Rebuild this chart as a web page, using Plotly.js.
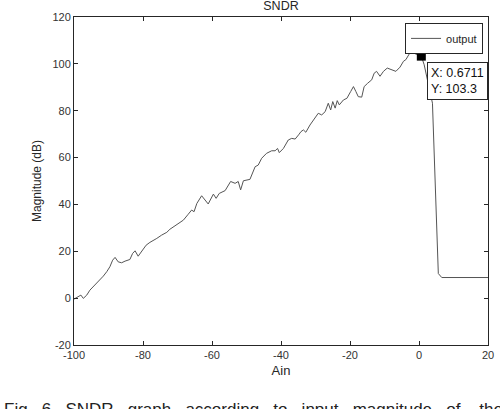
<!DOCTYPE html>
<html>
<head>
<meta charset="utf-8">
<script src="https://cdn.plot.ly/plotly-3.0.1.min.js"></script>
<style>
  html, body { margin: 0; padding: 0; background: #fff; }
  #sndrPlot { width: 500px; height: 409px; }
</style>
</head>
<body>
<div id="sndrPlot"></div>
<script>
// input amplitude (dB)
const ainValues = [
  -100, -98.8, -98.0, -97.3, -96.3, -95.4, -93.9, -92.5, -91.5, -90.5,
  -89.6, -88.8, -88.1, -87.2, -86.2, -85.2, -83.8, -83.0, -82.3, -81.4,
  -80.4, -79.1, -78.0, -77.0, -76.0, -74.6, -73.1, -72.2, -70.2, -68.3,
  -66.9, -65.9, -65.2, -64.4, -63.0, -62.0, -61.1, -59.6, -58.8, -57.9,
  -56.2, -54.6, -53.3, -52.4, -51.7, -50.9, -49.9, -49.0, -47.5, -46.6,
  -45.6, -44.2, -42.7, -41.7, -41.0, -40.5, -39.3, -37.9, -36.9, -35.9,
  -34.9, -34.2, -33.5, -32.8, -31.6, -30.6, -29.2, -28.2, -27.2, -26.3,
  -25.6, -25.0, -24.3, -23.7, -23.1, -21.9, -20.9, -19.8, -19.0, -18.3,
  -17.6, -16.6, -15.9, -14.9, -13.7, -13.0, -12.3, -11.3, -10.3, -9.2,
  -7.9, -6.7, -5.5, -4.5, -3.8, -3.1, -2.4, -1.6, -0.3, 0.6711,
  1.5, 3.9, 5.6, 6.6, 20
];
// SNDR magnitude (dB)
const sndrValues = [
  -0.4, 0.6, 1.3, -0.1, 1.3, 3.4, 5.6, 7.7, 9.4, 11.3,
  13.4, 16.2, 17.4, 15.5, 15.1, 15.8, 16.5, 19.1, 20.2, 17.9,
  19.8, 22.6, 23.8, 24.5, 25.5, 26.9, 28.1, 29.4, 31.6, 33.3,
  35.8, 37.6, 36.9, 40.4, 43.7, 41.9, 40.2, 44.4, 42.6, 44.7,
  45.9, 49.8, 49.0, 49.8, 46.2, 50.1, 50.4, 50.7, 56.1, 56.8,
  59.7, 61.8, 62.9, 62.9, 63.9, 62.1, 63.9, 67.5, 68.2, 67.9,
  69.7, 71.1, 71.8, 70.8, 73.9, 76.1, 78.9, 78.2, 79.6, 83.2,
  80.3, 83.9, 81.1, 84.3, 82.5, 84.6, 85.3, 88.2, 90.3, 88.2,
  86.0, 85.8, 90.3, 91.7, 93.2, 96.0, 96.8, 94.7, 96.8, 98.2,
  97.4, 96.8, 98.6, 101.1, 101.8, 103.8, 105.3, 104.6, 104.0, 103.3,
  99.6, 83.2, 10.5, 8.8, 8.8
];
// data tip
const tipX = [0.6711];
const tipY = [103.3];

const xTicks = [-100, -80, -60, -40, -20, 0, 20];
const xTickLabels = ["-100", "-80", "-60", "-40", "-20", "0", "20"];
const yTicks = [-20, 0, 20, 40, 60, 80, 100, 120];
const yTickLabels = ["-20", "0", "20", "40", "60", "80", "100", "120"];

const axisColor = "#262626";
const tickFont = { family: "Arial, Liberation Sans, sans-serif", size: 11, color: "#333" };

var traces = [
  {
    name: "output",
    x: ainValues,
    y: sndrValues,
    mode: "lines",
    line: { color: "#555555", width: 1 },
  },
  {
    name: "datatip",
    x: tipX,
    y: tipY,
    mode: "markers",
    marker: { color: "#000", size: 9, symbol: "square" },
    showlegend: false,
  },
];

var layout = {
  width: 500,
  height: 409,
  paper_bgcolor: "#fff",
  plot_bgcolor: "#fff",
  margin: { l: 74, r: 12, t: 17, b: 64 },
  font: { family: "Arial, Liberation Sans, sans-serif", color: "#262626" },
  title: {
    text: "SNDR",
    font: { size: 12.5, color: "#262626" },
    x: 0.5,
    xref: "paper",
    y: 0.986,
    yref: "container",
    yanchor: "middle",
  },
  showlegend: true,
  legend: {
    x: 0.988,
    y: 0.982,
    xanchor: "right",
    yanchor: "top",
    bgcolor: "#fff",
    bordercolor: "#262626",
    borderwidth: 1,
    font: { size: 11, color: "#262626" },
  },
  xaxis: {
    range: [-100, 20],
    tickvals: xTicks,
    ticktext: xTickLabels,
    ticks: "inside",
    ticklen: 4,
    tickcolor: axisColor,
    showline: true,
    linecolor: axisColor,
    linewidth: 1,
    mirror: "ticks",
    showgrid: false,
    zeroline: false,
    tickfont: tickFont,
    title: { text: "Ain", font: { size: 13, color: "#262626" }, standoff: 5 },
  },
  yaxis: {
    range: [-20, 120],
    tickvals: yTicks,
    ticktext: yTickLabels,
    ticks: "inside",
    ticklen: 4,
    tickcolor: axisColor,
    showline: true,
    linecolor: axisColor,
    linewidth: 1,
    mirror: "ticks",
    showgrid: false,
    zeroline: false,
    tickfont: tickFont,
    title: { text: "Magnitude (dB)", font: { size: 12, color: "#262626" }, standoff: 8 },
  },
  annotations: [
    {
      xref: "x",
      yref: "y",
      x: 2.3,
      y: 100.6,
      xanchor: "left",
      yanchor: "top",
      showarrow: false,
      align: "left",
      text: "X: " + tipX[0] + "<br>Y: " + tipY[0],
      font: { size: 12.5, color: "#111" },
      bgcolor: "#fff",
      bordercolor: "#262626",
      borderwidth: 1,
      borderpad: 3,
    },
    {
      xref: "paper",
      yref: "paper",
      x: -0.174,
      y: -0.163,
      xanchor: "left",
      yanchor: "top",
      showarrow: false,
      align: "left",
      text: "Fig.&nbsp;&nbsp;6.&nbsp;&nbsp;SNDR&nbsp;&nbsp;&nbsp;graph&nbsp;&nbsp;&nbsp;according&nbsp;&nbsp;&nbsp;to&nbsp;&nbsp;&nbsp;input&nbsp;&nbsp;&nbsp;magnitude&nbsp;&nbsp;&nbsp;of&nbsp;&nbsp;&nbsp;&nbsp;the",
      font: { size: 17, color: "#222" },
    },
  ],
};

Plotly.newPlot("sndrPlot", traces, layout, { staticPlot: true, displayModeBar: false });
</script>
</body>
</html>
